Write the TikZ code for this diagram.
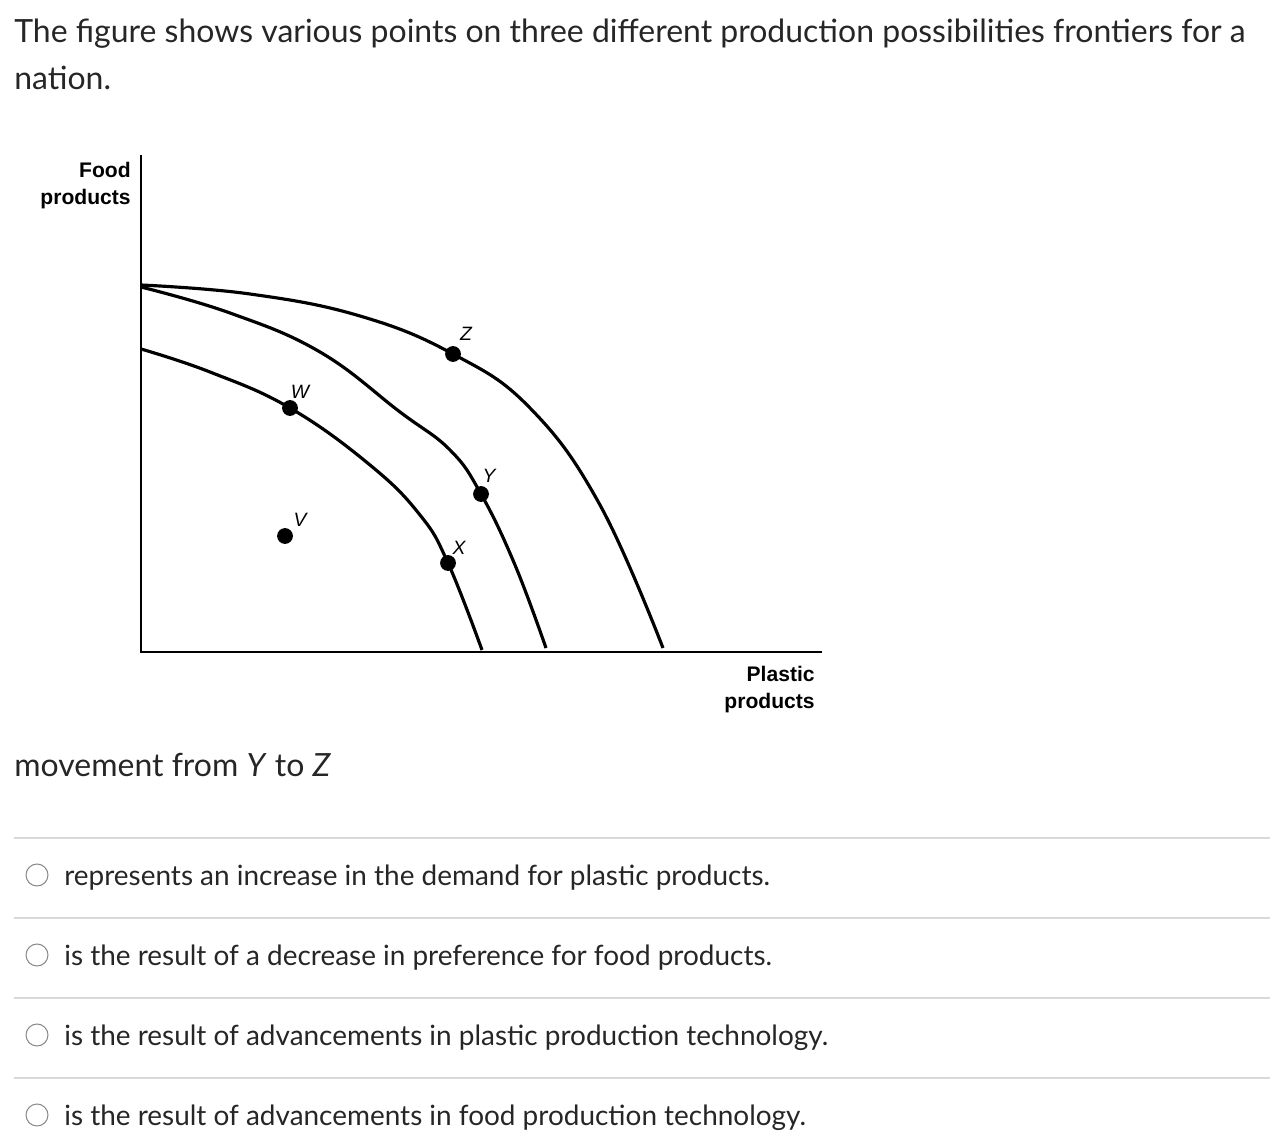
\documentclass[tikz,border=0pt]{standalone}
\usepackage{fontspec}
\setmainfont{Lato}
\newfontfamily\axf{Liberation Sans}
\begin{document}
\begin{tikzpicture}[x=0.02cm,y=-0.02cm,
  txt/.style={anchor=base west,inner sep=0,font=\fontsize{18.2pt}{22pt}\selectfont,text=black!85},
  opt/.style={anchor=base west,inner sep=0,font=\fontsize{15.9pt}{20pt}\selectfont,text=black!85},
  axl/.style={align=right,inner sep=0,font=\axf\bfseries\fontsize{12pt}{15.3pt}\selectfont},
  ppf/.style={line width=1.8pt},
  pt/.style={circle,fill=black,inner sep=0,minimum size=9pt},
  lab/.style={inner sep=0,font=\axf\itshape\fontsize{11pt}{13pt}\selectfont},
  sep/.style={draw=black!15,line width=0.8pt},
  radio/.style={circle,draw=black!45,line width=0.6pt,minimum size=12.5pt,inner sep=0}]
\useasboundingbox (0,0) rectangle (1270,1148);
\node[txt] (t1) at (14,43) {The figure shows various points on three different production possibilities frontiers for a};
\node[txt] (t2) at (14,90) {nation.};
% axes
\coordinate (o) at (141,652);
\coordinate (ytop) at (141,155);
\coordinate (xend) at (822,652);
\draw[line width=0.9pt] (ytop) -- (o) -- (xend);
\node[axl,anchor=north east] (fl) at (131,162) {Food\\products};
\node[axl,anchor=north east] (pl) at (815,666) {Plastic\\products};
% curves
\draw[ppf] plot[smooth,tension=0.7] coordinates {(141,349) (210,372) (290,408) (370,465) (420,515) (448,563) (482,650)};
\draw[ppf] plot[smooth,tension=0.7] coordinates {(141,287) (230,313) (320,352) (400,412) (450,450) (481,494) (515,565) (546,648)};
\draw[ppf] plot[smooth,tension=0.7] coordinates {(141,285) (250,294) (360,316) (453,354) (530,408) (600,505) (663,648)};
\node[pt] (W) at (290,408) {};
\node[pt] (X) at (448,563) {};
\node[pt] (Y) at (481,494) {};
\node[pt] (Z) at (453,354) {};
\node[pt] (V) at (285,536) {};
\node[lab] (lW) at (300,392) {W};
\node[lab] (lZ) at (466,334) {Z};
\node[lab] (lY) at (489,476) {Y};
\node[lab] (lV) at (300,520) {V};
\node[lab] (lX) at (459,548) {X};
\node[txt] (q) at (14,776) {movement from \textit{Y} to \textit{Z}};
\foreach \yy in {838,918,998,1078} \draw[sep] (14,\yy) -- (1270,\yy);
\foreach \yy/\tt in {875/represents an increase in the demand for plastic products.,
 955/is the result of a decrease in preference for food products.,
 1035/is the result of advancements in plastic production technology.,
 1115/is the result of advancements in food production technology.}{
 \node[radio] at (37,\yy) {};
 \node[opt] at (64,\yy+10) {\tt};
}
\end{tikzpicture}
\end{document}
